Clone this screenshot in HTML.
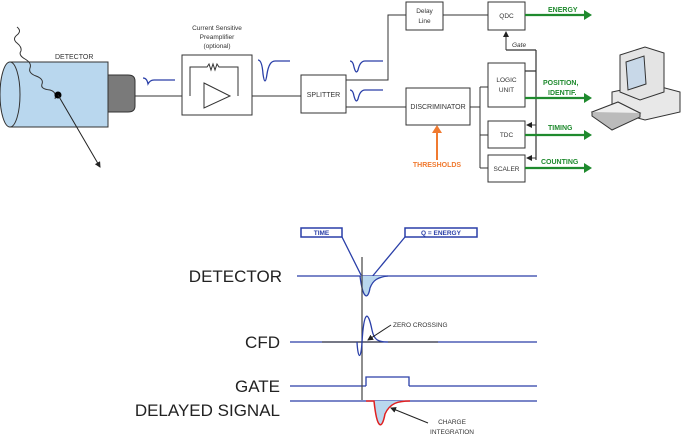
<!DOCTYPE html>
<html><head><meta charset="utf-8"><style>
body{margin:0;background:#fff}
svg{display:block;font-family:"Liberation Sans",sans-serif}
</style></head><body>
<svg width="685" height="438" viewBox="0 0 685 438" xmlns="http://www.w3.org/2000/svg">
<defs>
<marker id="ka" markerWidth="6" markerHeight="6" refX="5" refY="3" orient="auto" markerUnits="userSpaceOnUse"><path d="M0,0L6,3L0,6z" fill="#222"/></marker>
</defs>
<!-- detector -->
<rect x="10" y="62" width="98" height="65" fill="#b9d7ee" stroke="#333"/>
<ellipse cx="10" cy="94.5" rx="10" ry="32.5" fill="#b9d7ee" stroke="#333"/>
<path d="M108,75 h20 q7,0 7,6 v25 q0,6 -7,6 h-20z" fill="#7a7a7a" stroke="#333"/>
<text x="55" y="59" font-size="7" fill="#333">DETECTOR</text>
<path d="M17,27 q5,4 0,8 q-5,4 0,8 q5,4 4,8 q-3,4 4,8 q7,4 5,9 q-2,5 6,8 q8,3 6,8 q-2,5 8,6 q7,2 5,9" fill="none" stroke="#333" stroke-width="1"/>
<circle cx="58" cy="95" r="3.5" fill="#000"/>
<line x1="58" y1="95" x2="100" y2="167" stroke="#222" marker-end="url(#ka)"/>
<line x1="135" y1="96" x2="301" y2="96" stroke="#333"/>
<path d="M143,78 q4,0 5,6 q2,-4 6,-4 h21" fill="none" stroke="#2a3fa8" stroke-width="1.2"/>
<!-- preamp -->
<text x="217" y="30" font-size="6.5" text-anchor="middle" fill="#333">Current Sensitive</text>
<text x="217" y="39" font-size="6.5" text-anchor="middle" fill="#333">Preamplifier</text>
<text x="217" y="48" font-size="6.5" text-anchor="middle" fill="#333">(optional)</text>
<rect x="182" y="55" width="70" height="60" fill="#fff" stroke="#333"/>
<path d="M190,96 V67 H207 l2,-3 2,6 2,-6 2,6 2,-6 2,3 H238 V96" fill="none" stroke="#333"/>
<path d="M204,83 L230,96 L204,108z" fill="#fff" stroke="#333"/>
<path d="M258,60 q4,0 5,14 q2,14 4,0 q2,-13 8,-13 h15" fill="none" stroke="#2a3fa8" stroke-width="1.3"/>
<!-- splitter -->
<rect x="301" y="75" width="45" height="38" fill="#fff" stroke="#333"/>
<text x="323.5" y="97" font-size="7" text-anchor="middle" fill="#333">SPLITTER</text>
<path d="M346,80 H388 V15 H406" fill="none" stroke="#333"/>
<line x1="346" y1="107" x2="406" y2="107" stroke="#333"/>
<path d="M350,61 q3,0 4,6 q2,8 4,3 q2,-9 7,-9 h18" fill="none" stroke="#2a3fa8" stroke-width="1.3"/>
<path d="M350,90 q3,0 4,6 q2,8 4,3 q2,-9 7,-9 h18" fill="none" stroke="#2a3fa8" stroke-width="1.3"/>
<!-- delay -->
<rect x="406" y="2" width="37" height="28" fill="#fff" stroke="#333"/>
<text x="424.5" y="13" font-size="6.5" text-anchor="middle" fill="#333">Delay</text>
<text x="424.5" y="23" font-size="6.5" text-anchor="middle" fill="#333">Line</text>
<line x1="443" y1="15" x2="488" y2="15" stroke="#333"/>
<rect x="488" y="2" width="37" height="28" fill="#fff" stroke="#333"/>
<text x="506.5" y="18" font-size="6.5" text-anchor="middle" fill="#333">QDC</text>
<!-- discriminator -->
<rect x="406" y="88" width="64" height="37" fill="#fff" stroke="#333"/>
<text x="438" y="109" font-size="7" text-anchor="middle" fill="#333">DISCRIMINATOR</text>
<path d="M470,107 H480 M480,87 V168 M480,87 H488 M480,135 H488 M480,168 H488" fill="none" stroke="#333"/>
<rect x="488" y="63" width="37" height="44" fill="#fff" stroke="#333"/>
<text x="506.5" y="82" font-size="6.5" text-anchor="middle" fill="#333">LOGIC</text>
<text x="506.5" y="92" font-size="6.5" text-anchor="middle" fill="#333">UNIT</text>
<rect x="488" y="121" width="37" height="27" fill="#fff" stroke="#333"/>
<text x="506.5" y="137" font-size="6.5" text-anchor="middle" fill="#333">TDC</text>
<rect x="488" y="155" width="37" height="27" fill="#fff" stroke="#333"/>
<text x="506.5" y="171" font-size="6.5" text-anchor="middle" fill="#333">SCALER</text>
<path d="M525,71 H536 M536,50 V160 M536,50 H506" fill="none" stroke="#333" stroke-width="1.2"/>
<line x1="506" y1="50" x2="506" y2="32" stroke="#333" marker-end="url(#ka)"/>
<line x1="536" y1="125" x2="527" y2="125" stroke="#333" marker-end="url(#ka)"/>
<line x1="536" y1="158" x2="527" y2="158" stroke="#333" marker-end="url(#ka)"/>
<text x="512" y="47" font-size="6.5" font-style="italic" fill="#333">Gate</text>
<!-- thresholds -->
<line x1="437" y1="160" x2="437" y2="128" stroke="#f07a30" stroke-width="2" />
<path d="M432,133 L437,125 L442,133z" fill="#f07a30"/>
<text x="437" y="167" font-size="7" font-weight="bold" text-anchor="middle" fill="#f07a30">THRESHOLDS</text>
<!-- outputs -->
<g stroke="#1f8a2e" stroke-width="2.2">
<line x1="525" y1="15" x2="586" y2="15"/>
<line x1="525" y1="98" x2="586" y2="98"/>
<line x1="525" y1="135" x2="586" y2="135"/>
<line x1="525" y1="168" x2="586" y2="168"/>
</g>
<g fill="#1f8a2e"><path d="M584,10L592,15L584,20z"/><path d="M584,93L592,98L584,103z"/><path d="M584,130L592,135L584,140z"/><path d="M584,163L592,168L584,173z"/></g>
<g font-size="7" font-weight="bold" fill="#1f8a2e">
<text x="548" y="12">ENERGY</text>
<text x="543" y="85">POSITION,</text>
<text x="548" y="95">IDENTIF.</text>
<text x="548" y="130">TIMING</text>
<text x="541" y="164">COUNTING</text>
</g>
<!-- computer -->
<path d="M612,92 L650,84 L680,92 L680,112 L645,120 L612,111z" fill="#e8e8e8" stroke="#333"/>
<path d="M620,55 L645,47 L664,53 L664,92 L640,100 L620,92z" fill="#e4e4e4" stroke="#333"/>
<path d="M626,62 L644,56 L646,84 L628,90z" fill="#c8d8e8" stroke="#333"/>
<path d="M592,112 L618,102 L640,113 L612,126z" fill="#eee" stroke="#333" stroke-width="1.2"/>
<path d="M592,112 L592,116 L612,130 L640,117 L640,113" fill="#bbb" stroke="#333"/>
<!-- timing diagram -->
<g stroke="#2a3fa8" stroke-width="1.3" fill="none">
<line x1="297" y1="276" x2="537" y2="276"/>
<line x1="290" y1="342" x2="537" y2="342"/>
<line x1="290" y1="386" x2="366" y2="386"/>
<line x1="409" y1="386" x2="537" y2="386"/>
<path d="M366,386 V377 H409 V386"/>
<line x1="290" y1="401" x2="537" y2="401"/>
<rect x="301" y="228" width="41" height="9" stroke-width="1.5"/>
<rect x="405" y="228" width="72" height="9" stroke-width="1.5"/>
<line x1="342" y1="237" x2="361" y2="275"/>
<line x1="405" y1="237" x2="371" y2="278"/>
</g>
<path d="M361,276 C363,300 368,300 370,288 C373,280 378,277 388,276z" fill="#b9d7ee"/>
<path d="M360,276 C363,300 368,300 370,288 C373,280 378,277 388,276" fill="none" stroke="#2a3fa8" stroke-width="1.3"/>
<line x1="362" y1="257" x2="362" y2="400" stroke="#444" stroke-width="1.2"/>
<line x1="322" y1="342" x2="438" y2="342" stroke="#222"/>
<path d="M357,342 C358,360 361,360 362,342 C364,310 368,310 372,330 C374,340 378,342 388,342" fill="none" stroke="#2a3fa8" stroke-width="1.3"/>
<line x1="391" y1="325" x2="368" y2="340" stroke="#222" marker-end="url(#ka)"/>
<text x="393" y="327" font-size="6.5" fill="#333">ZERO CROSSING</text>
<path d="M374,401 C377,430 382,430 385,414 C390,403 398,401 410,401z" fill="#b9d7ee"/>
<path d="M366,401 h8 C377,430 382,430 385,414 C390,403 398,401 410,401" fill="none" stroke="#e02020" stroke-width="1.5"/>
<line x1="428" y1="423" x2="391" y2="408" stroke="#222" marker-end="url(#ka)"/>
<text x="452" y="424" font-size="6.5" text-anchor="middle" fill="#333">CHARGE</text>
<text x="452" y="434" font-size="6.5" text-anchor="middle" fill="#333">INTEGRATION</text>
<g font-size="17" fill="#222" text-anchor="end">
<text x="282" y="282">DETECTOR</text>
<text x="280" y="348">CFD</text>
<text x="280" y="392">GATE</text>
<text x="280" y="416">DELAYED SIGNAL</text>
</g>
<g font-size="6.5" font-weight="bold" fill="#2a3fa8" text-anchor="middle">
<text x="321.5" y="235">TIME</text>
<text x="441" y="235">Q = ENERGY</text>
</g>
</svg>
</body></html>
